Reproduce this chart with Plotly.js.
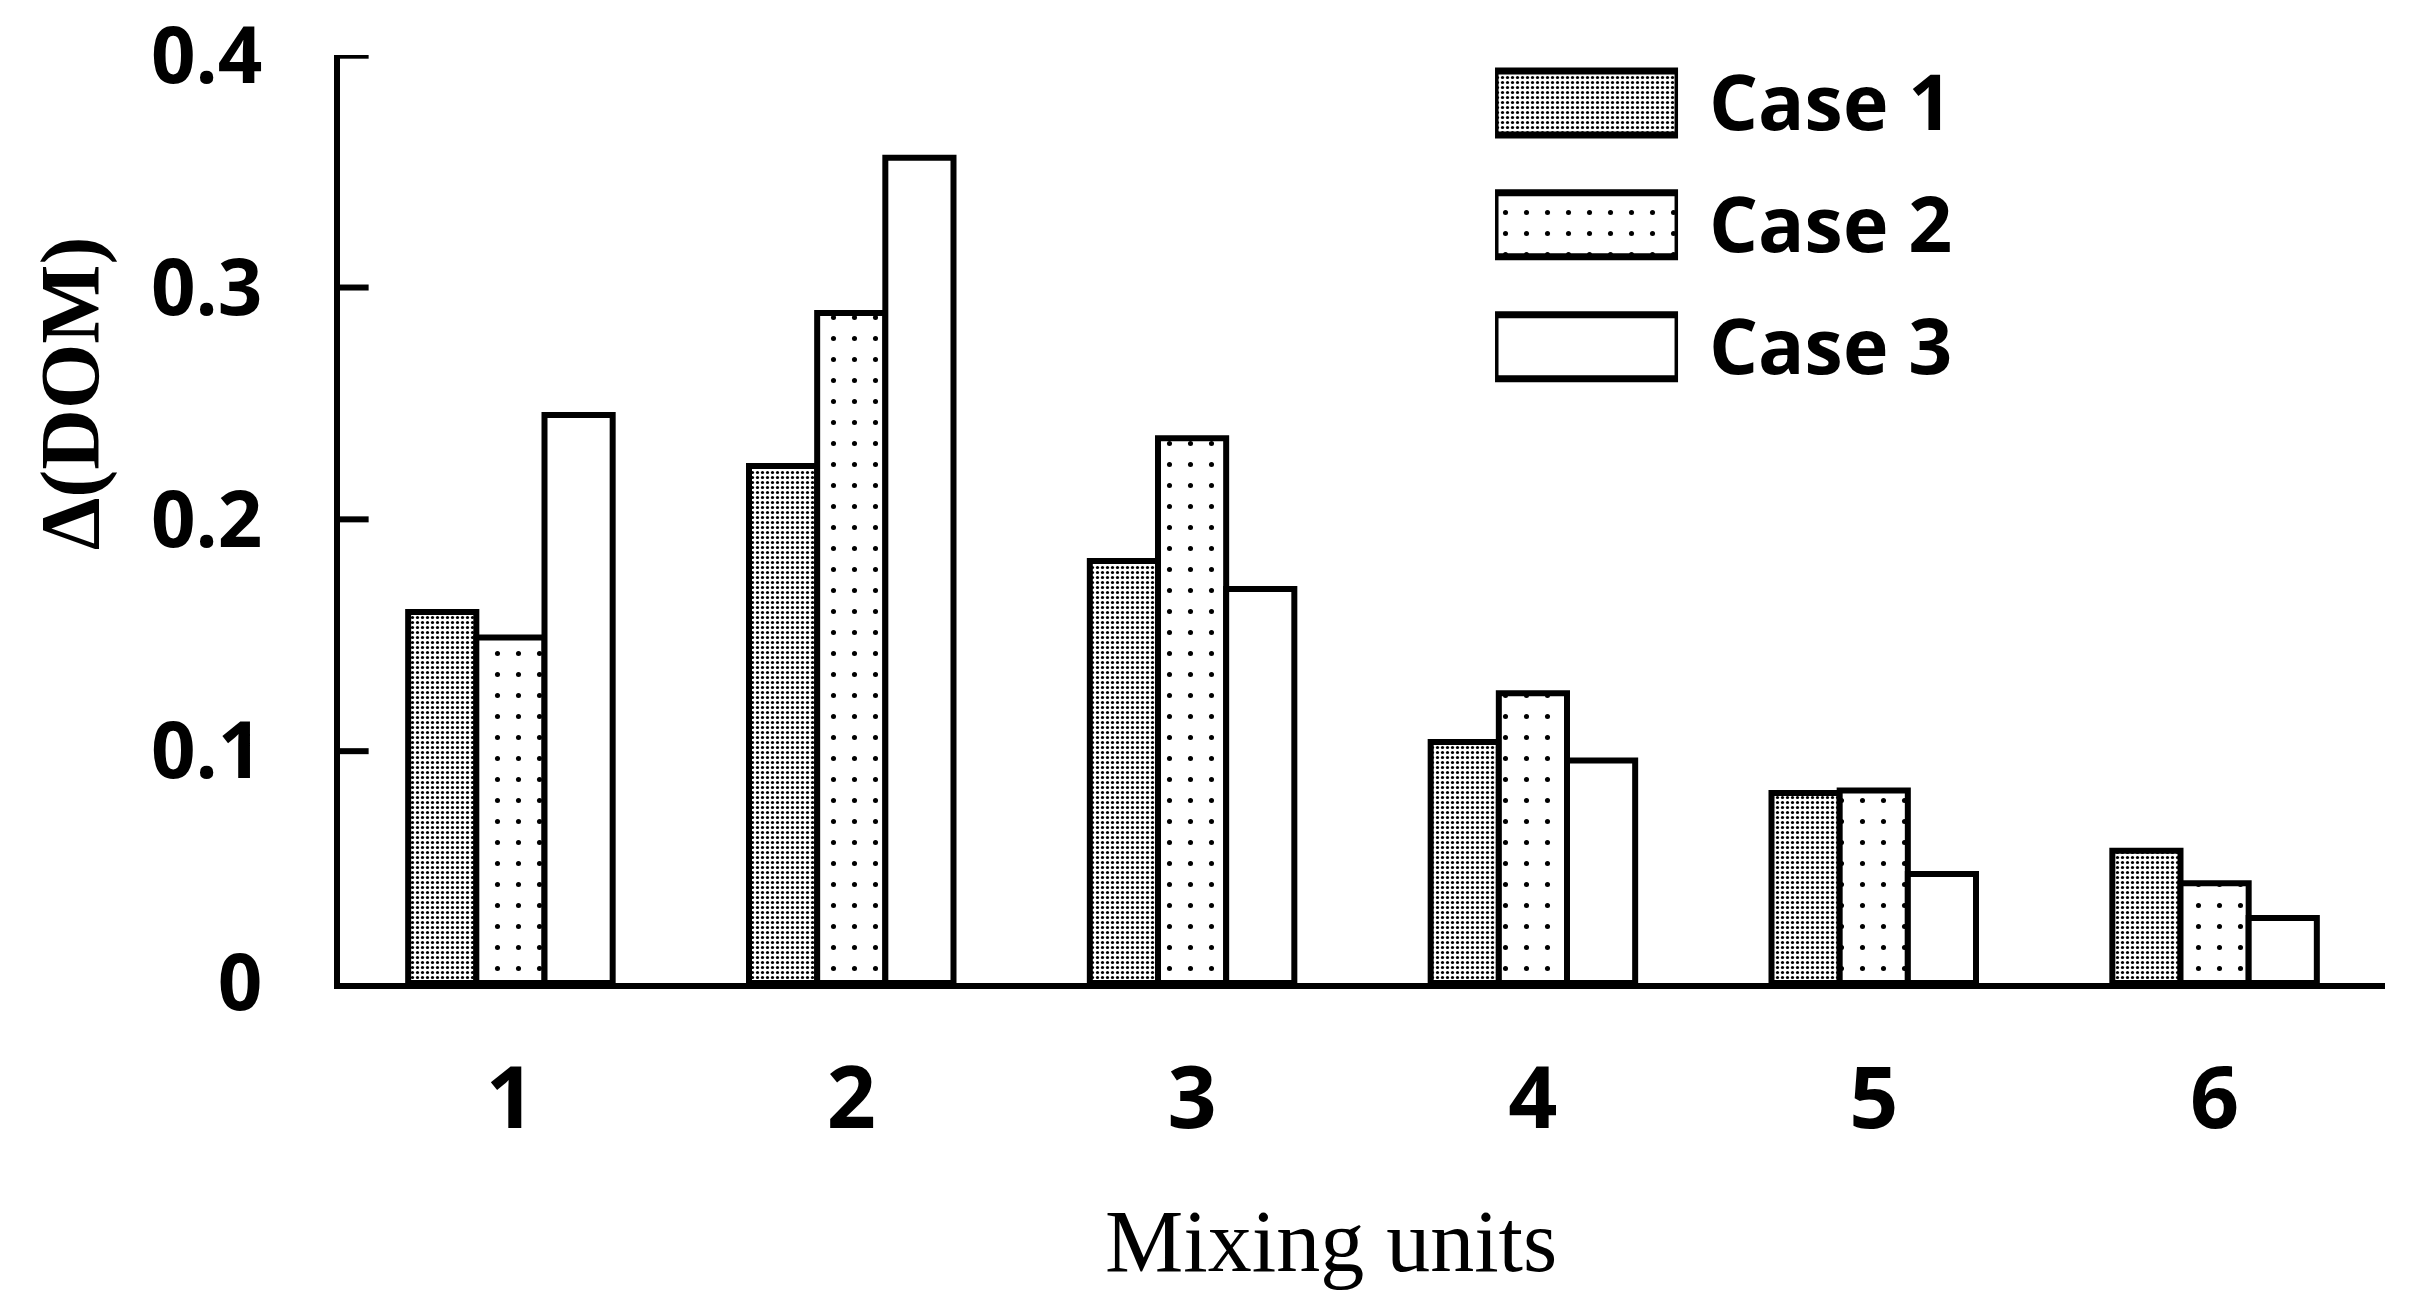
<!DOCTYPE html>
<html>
<head>
<meta charset="utf-8">
<script src="https://cdn.plot.ly/plotly-3.0.1.min.js"></script>
<style>html,body{margin:0;padding:0;background:#fff;}#chart{width:2422px;height:1306px;}</style>
</head>
<body>
<div id="chart"></div>
<script>
// ---- data ----
const units = ['1', '2', '3', '4', '5', '6'];
const caseNames = ['Case 1', 'Case 2', 'Case 3'];
const case1 = [0.160, 0.223, 0.182, 0.104, 0.082, 0.057];
const case2 = [0.149, 0.289, 0.235, 0.125, 0.083, 0.043];
const case3 = [0.245, 0.356, 0.170, 0.096, 0.047, 0.028];
const yTicks = [0, 0.1, 0.2, 0.3, 0.4];
const yTickText = ['0', '0.1', '0.2', '0.3', '0.4'];
const xTitle = 'Mixing units';
const yTitle = 'Δ(DOM)';

// ---- styles ----
const patterns = [
  {shape: '.', fgcolor: '#000', bgcolor: '#fff', size: 5, solidity: 0.33},
  {shape: '.', fgcolor: '#000', bgcolor: '#fff', size: 21, solidity: 0.045},
  {shape: '', fgcolor: '#000', bgcolor: '#fff', size: 8, solidity: 0.2}
];
const series = [case1, case2, case3];

const traces = series.map((vals, i) => ({
  type: 'bar',
  name: caseNames[i],
  x: units,
  y: vals,
  xaxis: 'x',
  yaxis: 'y',
  showlegend: false,
  marker: {
    color: '#fff',
    line: {color: '#000', width: 6},
    pattern: patterns[i]
  },
  hoverinfo: 'x+y+name'
}));

// legend drawn as a small bar subplot (one swatch per case)
traces.push({
  type: 'bar',
  orientation: 'h',
  x: caseNames.map(() => 1),
  y: caseNames,
  width: 0.525,
  xaxis: 'x2',
  yaxis: 'y2',
  showlegend: false,
  hoverinfo: 'y',
  marker: {
    color: '#fff',
    line: {color: '#000', width: 7},
    pattern: {
      shape: patterns.map(p => p.shape),
      fgcolor: patterns.map(p => p.fgcolor),
      bgcolor: patterns.map(p => p.bgcolor),
      size: patterns.map(p => p.size),
      solidity: patterns.map(p => p.solidity)
    }
  }
});

// inward tick marks on the y axis, placed through the y scale
const tickShapes = yTicks.filter(v => v > 0).map(v => ({
  type: 'line',
  xref: 'paper', yref: 'y',
  x0: 0, x1: 0.014,
  y0: v, y1: v,
  line: {color: '#000', width: 6},
  layer: 'above'
}));

const layout = {
  width: 2422,
  height: 1306,
  margin: {l: 340, r: 37, t: 55, b: 323},
  paper_bgcolor: '#fff',
  plot_bgcolor: 'rgba(0,0,0,0)',
  barmode: 'group',
  bargap: 0.4,
  bargroupgap: 0,
  xaxis: {
    type: 'category',
    categoryorder: 'array',
    categoryarray: units,
    range: [-0.5, 5.5],
    showline: true,
    linecolor: '#000',
    linewidth: 6,
    ticks: '',
    showgrid: false,
    zeroline: false,
    tickfont: {family: 'Open Sans, Noto Sans, sans-serif', size: 86, color: '#000', weight: 'bold'},
    ticklabelstandoff: 36,
    automargin: false
  },
  yaxis: {
    range: [0, 0.4003],
    tickmode: 'array',
    tickvals: yTicks,
    ticktext: yTickText,
    showline: true,
    linecolor: '#000',
    linewidth: 6,
    ticks: '',
    showgrid: false,
    zeroline: false,
    tickfont: {family: 'Open Sans, Noto Sans, sans-serif', size: 78, color: '#000', weight: 'bold'},
    ticklabelstandoff: 56,
    ticklabeloverflow: 'allow',
    automargin: false
  },
  xaxis2: {
    domain: [0.5648, 0.6543],
    anchor: 'y2',
    range: [0, 1],
    visible: false,
    fixedrange: true
  },
  yaxis2: {
    domain: [0.62, 1],
    anchor: 'x2',
    type: 'category',
    categoryorder: 'array',
    categoryarray: caseNames.slice().reverse(),
    range: [-0.5, 2.393],
    side: 'right',
    showline: false,
    showgrid: false,
    zeroline: false,
    ticks: '',
    tickfont: {family: 'Open Sans, Noto Sans, sans-serif', size: 77, color: '#000', weight: 'bold'},
    ticklabelstandoff: 30,
    ticklabeloverflow: 'allow',
    fixedrange: true
  },
  shapes: tickShapes,
  annotations: [
    {
      text: xTitle,
      xref: 'paper', yref: 'paper',
      x: 0.4846, y: -0.2785,
      xanchor: 'center', yanchor: 'middle',
      showarrow: false,
      font: {family: 'Liberation Serif, Times New Roman, serif', size: 88, color: '#000'}
    },
    {
      text: yTitle,
      xref: 'paper', yref: 'paper',
      x: -0.1315, y: 0.6355,
      xanchor: 'center', yanchor: 'middle',
      textangle: -90,
      showarrow: false,
      font: {family: 'Liberation Serif, Times New Roman, serif', size: 84, color: '#000', weight: 'bold'}
    }
  ],
  showlegend: false
};

Plotly.newPlot('chart', traces, layout, {displayModeBar: false, staticPlot: true});
</script>
</body>
</html>
